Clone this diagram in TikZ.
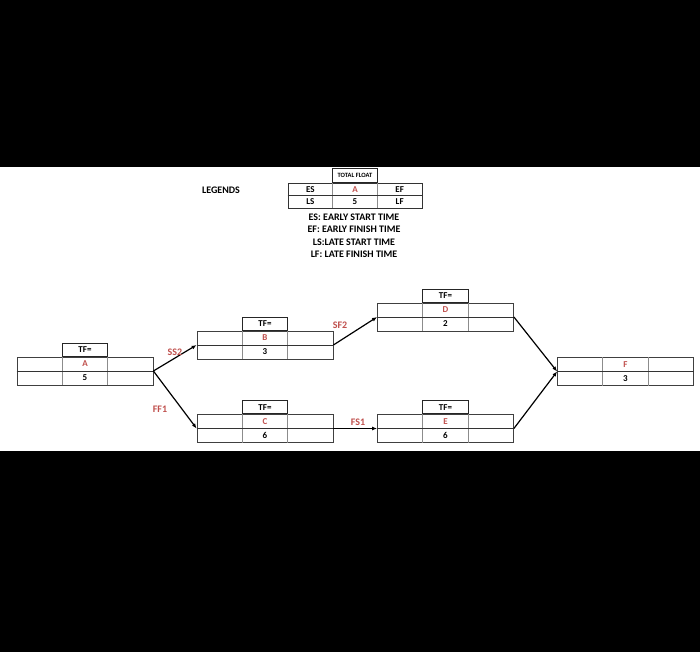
\documentclass[tikz,border=0pt]{standalone}
\usepackage{fontspec}
\setmainfont{Carlito}
\usetikzlibrary{arrows.meta}
\definecolor{acred}{RGB}{192,80,77}
\begin{document}
\begin{tikzpicture}[x=1pt,y=-1pt,
  act/.style={draw=black!75,line width=0.8pt,minimum width=136pt,minimum height=28pt,inner sep=0pt},
  tfbox/.style={draw=black!85,line width=0.8pt,minimum width=45.3pt,minimum height=13pt,inner sep=0pt,anchor=south,font=\bfseries\fontsize{9}{9}\selectfont},
  inl/.style={draw=black!45,line width=0.7pt},
  midl/.style={draw=black!80,line width=0.8pt},
  txt/.style={font=\bfseries\fontsize{9}{9}\selectfont,inner sep=0pt},
  rtxt/.style={txt,text=acred},
  lbl/.style={font=\bfseries\fontsize{10}{10}\selectfont,text=acred,inner sep=0pt},
  lgd/.style={font=\bfseries\fontsize{10}{10}\selectfont,inner sep=0pt},
  arr/.style={line width=1.2pt,-{Latex[length=5pt,width=4pt]}}]
\useasboundingbox (0,0) rectangle (700,652);
\fill[black] (0,0) rectangle (700,652);
\fill[white] (0,167) rectangle (700,451);

% ---------- legend ----------
\node[lgd] (legtitle) at (221,190) {LEGENDS};
\node[draw=black!80,line width=0.8pt,minimum width=134pt,minimum height=25pt,inner sep=0pt] (LG) at (355,195.5) {};
\draw[inl] ([xshift=-22.33pt]LG.north) -- ([xshift=-22.33pt]LG.south);
\draw[inl] ([xshift=22.33pt]LG.north) -- ([xshift=22.33pt]LG.south);
\draw[midl] (LG.west) -- (LG.east);
\node[draw=black!85,line width=0.8pt,minimum width=44.7pt,minimum height=14pt,inner sep=0pt,anchor=south,font=\bfseries\fontsize{6.5}{6.5}\selectfont] (LGtf) at (LG.north) {TOTAL FLOAT};
\node[txt] (lges) at ([xshift=-44.7pt,yshift=6.3pt]LG.center) {ES};
\node[rtxt] (lga) at ([yshift=6.3pt]LG.center) {A};
\node[txt] (lgef) at ([xshift=44.7pt,yshift=6.3pt]LG.center) {EF};
\node[txt] (lgls) at ([xshift=-44.7pt,yshift=-6.3pt]LG.center) {LS};
\node[txt] (lgd) at ([yshift=-6.3pt]LG.center) {5};
\node[txt] (lglf) at ([xshift=44.7pt,yshift=-6.3pt]LG.center) {LF};
\node[lgd] (def1) at (354,217) {ES: EARLY START TIME};
\node[lgd] (def2) at (354,229.5) {EF: EARLY FINISH TIME};
\node[lgd] (def3) at (354,242) {LS:LATE START TIME};
\node[lgd] (def4) at (354,254.5) {LF: LATE FINISH TIME};

% ---------- activities ----------
\foreach \n/\x/\y/\l/\d in {A/85/371/A/5, B/265/345/B/3, C/265/428.5/C/6, D/445.5/317/D/2, E/445.5/428.5/E/6, F/625.5/371.5/F/3}{
  \node[act] (\n) at (\x,\y) {};
  \draw[inl] ([xshift=-22.67pt]\n.north) -- ([xshift=-22.67pt]\n.south);
  \draw[inl] ([xshift=22.67pt]\n.north) -- ([xshift=22.67pt]\n.south);
  \draw[midl] (\n.west) -- (\n.east);
  \node[rtxt] (\n l) at ([yshift=7pt]\n.center) {\l};
  \node[txt] (\n d) at ([yshift=-7pt]\n.center) {\d};
}
\foreach \n in {A,B,C,D,E}{
  \node[tfbox] (\n tf) at (\n.north) {TF=};
}

% ---------- connectors ----------
\draw[arr] (A.east) -- (B.west);
\draw[arr] (A.east) -- (C.west);
\draw[arr] (B.east) -- (D.west);
\draw[arr] (C.east) -- (E.west);
\draw[arr] (D.east) -- (F.west);
\draw[arr] (E.east) -- (F.west);

\node[lbl] (ss2) at (175,352) {SS2};
\node[lbl] (ff1) at (160,409) {FF1};
\node[lbl] (sf2) at (340,325) {SF2};
\node[lbl] (fs1) at (358,422) {FS1};
\end{tikzpicture}
\end{document}
